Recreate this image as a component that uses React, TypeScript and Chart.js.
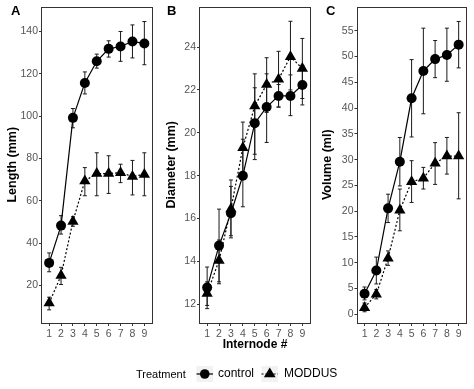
import React, { useEffect, useRef } from "react";
import { Chart, registerables } from "chart.js";

Chart.register(...registerables);

const FONT = "'Liberation Sans', Arial, Helvetica, sans-serif";

const internodes = [1, 2, 3, 4, 5, 6, 7, 8, 9];

// Panel A: Length (mm)
const lengthControl = [30.7, 48.3, 99.2, 115.7, 125.9, 131.8, 132.9, 135.3, 134.3];
const lengthControlLow = [26.5, 44.3, 94.5, 110.5, 122.7, 127.9, 125.9, 127.5, 124.3];
const lengthControlHigh = [35.4, 53.0, 103.6, 120.9, 129.3, 135.6, 140.0, 143.1, 144.7];
const lengthModdus = [11.7, 24.7, 50.3, 69.4, 72.9, 72.9, 73.3, 71.5, 72.5];
const lengthModdusLow = [8.5, 20.5, 48.0, 62.4, 62.4, 63.5, 68.6, 62.8, 62.4];
const lengthModdusHigh = [14.5, 28.6, 52.5, 75.7, 82.7, 81.3, 77.3, 79.1, 82.7];
const lengthTicks = [20, 40, 60, 80, 100, 120, 140];

// Panel B: Diameter (mm)
const diamControl = [12.78, 14.74, 16.25, 18.0, 20.45, 21.2, 21.72, 21.72, 22.23];
const diamControlLow = [11.8, 12.96, 15.1, 16.55, 18.75, 19.55, 21.2, 20.8, 21.3];
const diamControlHigh = [13.74, 16.44, 17.5, 19.7, 22.1, 22.75, 22.25, 22.7, 23.15];
const diamModdus = [12.5, 14.05, 16.45, 19.3, 21.25, 22.25, 22.5, 23.55, 23.0];
const diamModdusLow = [11.95, 13.05, 15.2, 18.1, 19.0, 20.95, 21.2, 22.0, 21.6];
const diamModdusHigh = [13.05, 15.0, 17.8, 20.5, 22.75, 23.5, 23.8, 25.2, 24.4];
const diamTicks = [12, 14, 16, 18, 20, 22, 24];

// Panel C: Volume (ml)
const volControl = [4.0, 8.5, 20.55, 29.6, 41.9, 47.2, 49.5, 50.3, 52.3];
const volControlLow = [2.8, 5.9, 17.8, 24.9, 34.4, 38.9, 45.9, 45.2, 47.8];
const volControlHigh = [5.3, 11.1, 23.3, 34.3, 49.4, 55.5, 53.1, 55.5, 56.8];
const volModdus = [1.3, 3.9, 10.9, 20.2, 25.7, 26.4, 29.3, 30.7, 30.7];
const volModdusLow = [0.5, 3.0, 9.5, 16.2, 21.7, 24.3, 25.2, 27.2, 22.4];
const volModdusHigh = [2.2, 4.8, 12.3, 24.3, 29.8, 28.5, 33.3, 34.3, 39.1];
const volTicks = [0, 5, 10, 15, 20, 25, 30, 35, 40, 45, 50, 55];

const CANVAS_H = 345;

type PanelProps = {
  left: number;
  width: number;
  rightPad: number;
  axisWidth: number;
  titlePad: number;
  yTitle: string;
  yMin: number;
  yMax: number;
  yTicks: number[];
  ctrl: number[];
  ctrlLow: number[];
  ctrlHigh: number[];
  mod: number[];
  modLow: number[];
  modHigh: number[];
};

function Panel(p: PanelProps) {
  const ref = useRef<HTMLCanvasElement | null>(null);
  useEffect(() => {
    if (!ref.current) return;
    const bars = [
      { low: p.ctrlLow, high: p.ctrlHigh },
      { low: p.modLow, high: p.modHigh },
    ];
    const plugin = {
      id: "errbarsAndFrame",
      beforeDatasetsDraw(chart: any) {
        const { ctx, scales } = chart;
        const x = scales.x;
        const y = scales.y;
        ctx.save();
        ctx.strokeStyle = "#1a1a1a";
        ctx.lineWidth = 1;
        bars.forEach((s) => {
          s.low.forEach((lo, i) => {
            const px = x.getPixelForValue(internodes[i]);
            const y1 = y.getPixelForValue(lo);
            const y2 = y.getPixelForValue(s.high[i]);
            ctx.beginPath();
            ctx.moveTo(px, y1);
            ctx.lineTo(px, y2);
            ctx.moveTo(px - 2, y1);
            ctx.lineTo(px + 2, y1);
            ctx.moveTo(px - 2, y2);
            ctx.lineTo(px + 2, y2);
            ctx.stroke();
          });
        });
        ctx.restore();
      },
      afterDraw(chart: any) {
        const { ctx, chartArea } = chart;
        ctx.save();
        ctx.strokeStyle = "#333";
        ctx.lineWidth = 1;
        const l = Math.round(chartArea.left) - 0.5;
        const t = Math.round(chartArea.top) + 0.5;
        const r = Math.round(chartArea.right) + 0.5;
        const b = Math.round(chartArea.bottom) + 0.5;
        ctx.strokeRect(l, t, r - l, b - t);
        ctx.restore();
      },
    };
    const tickFont = { size: 10.5, family: FONT };
    const chart = new Chart(ref.current, {
      type: "line",
      data: {
        datasets: [
          {
            label: "control",
            data: internodes.map((v, i) => ({ x: v, y: p.ctrl[i] })),
            borderColor: "#000",
            backgroundColor: "#000",
            borderWidth: 1.2,
            pointStyle: "circle",
            pointRadius: 5,
            pointBorderWidth: 0,
            pointBackgroundColor: "#000",
            tension: 0,
            clip: false,
          },
          {
            label: "MODDUS",
            data: internodes.map((v, i) => ({ x: v, y: p.mod[i] })),
            borderColor: "#000",
            backgroundColor: "#000",
            borderWidth: 1.2,
            borderDash: [2, 2],
            pointStyle: "triangle",
            pointRadius: 6.5,
            pointBorderWidth: 0,
            pointBackgroundColor: "#000",
            tension: 0,
            clip: false,
          },
        ],
      },
      options: {
        animation: false,
        responsive: false,
        maintainAspectRatio: false,
        events: [],
        layout: { padding: { top: 5, left: 0, right: p.rightPad, bottom: 0 } },
        plugins: { legend: { display: false }, tooltip: { enabled: false } },
        scales: {
          x: {
            type: "linear",
            min: 0.4,
            max: 9.6,
            afterBuildTicks: (ax: any) => {
              ax.ticks = internodes.map((v) => ({ value: v }));
            },
            afterFit: (ax: any) => {
              ax.height = 22;
              ax.paddingLeft = 0;
              ax.paddingRight = 0;
            },
            ticks: {
              color: "#555",
              font: tickFont,
              padding: 2,
              maxRotation: 0,
              autoSkip: false,
            },
            grid: { drawOnChartArea: false, color: "#333", tickLength: 3, tickWidth: 1 },
            border: { display: false },
          },
          y: {
            type: "linear",
            min: p.yMin,
            max: p.yMax,
            afterBuildTicks: (ax: any) => {
              ax.ticks = p.yTicks.map((v) => ({ value: v }));
            },
            afterFit: (ax: any) => {
              ax.width = p.axisWidth;
              ax.paddingTop = 0;
              ax.paddingBottom = 0;
            },
            ticks: { color: "#555", font: tickFont, padding: 1 },
            grid: { drawOnChartArea: false, color: "#333", tickLength: 3, tickWidth: 1 },
            border: { display: false },
            title: {
              display: true,
              text: p.yTitle,
              color: "#000",
              font: { size: 12.5, weight: "bold", family: FONT },
              padding: { top: p.titlePad, bottom: 0 },
            },
          },
        },
      },
      plugins: [plugin],
    } as any);
    return () => chart.destroy();
  }, []);
  return (
    <canvas
      ref={ref}
      width={p.width}
      height={CANVAS_H}
      style={{ position: "absolute", left: p.left, top: 0, width: p.width, height: CANVAS_H }}
    />
  );
}

const panelLabel = (text: string, left: number) => (
  <div
    style={{
      position: "absolute",
      left,
      top: 3,
      fontSize: 13,
      lineHeight: "15px",
      fontWeight: "bold",
      color: "#000",
    }}
  >
    {text}
  </div>
);

export default function App() {
  return (
    <div
      style={{
        position: "fixed",
        left: 0,
        top: 0,
        width: 474,
        height: 389,
        background: "#fff",
        fontFamily: FONT,
        overflow: "hidden",
      }}
    >
      <Panel
        left={0}
        width={158}
        rightPad={5.3}
        axisWidth={42}
        titlePad={5}
        yTitle="Length (mm)"
        yMin={2.3}
        yMax={151.8}
        yTicks={lengthTicks}
        ctrl={lengthControl}
        ctrlLow={lengthControlLow}
        ctrlHigh={lengthControlHigh}
        mod={lengthModdus}
        modLow={lengthModdusLow}
        modHigh={lengthModdusHigh}
      />
      <Panel
        left={158}
        width={158}
        rightPad={5.3}
        axisWidth={42}
        titlePad={6.4}
        yTitle="Diameter (mm)"
        yMin={11.13}
        yMax={25.89}
        yTicks={diamTicks}
        ctrl={diamControl}
        ctrlLow={diamControlLow}
        ctrlHigh={diamControlHigh}
        mod={diamModdus}
        modLow={diamModdusLow}
        modHigh={diamModdusHigh}
      />
      <Panel
        left={316}
        width={158}
        rightPad={8.3}
        axisWidth={41.5}
        titlePad={4.4}
        yTitle="Volume (ml)"
        yMin={-1.68}
        yMax={59.7}
        yTicks={volTicks}
        ctrl={volControl}
        ctrlLow={volControlLow}
        ctrlHigh={volControlHigh}
        mod={volModdus}
        modLow={volModdusLow}
        modHigh={volModdusHigh}
      />
      {panelLabel("A", 11)}
      {panelLabel("B", 167)}
      {panelLabel("C", 326)}
      <div
        style={{
          position: "absolute",
          left: 155,
          width: 200,
          top: 336,
          textAlign: "center",
          fontSize: 12,
          lineHeight: "16px",
          fontWeight: "bold",
          color: "#000",
        }}
      >
        Internode #
      </div>
      <div
        style={{
          position: "absolute",
          left: 136,
          top: 367,
          fontSize: 11,
          lineHeight: "14px",
          color: "#000",
        }}
      >
        Treatment
      </div>
      <div
        style={{
          position: "absolute",
          left: 218,
          top: 366,
          fontSize: 12,
          lineHeight: "15px",
          color: "#000",
        }}
      >
        control
      </div>
      <div
        style={{
          position: "absolute",
          left: 284,
          top: 366,
          fontSize: 12,
          lineHeight: "15px",
          color: "#000",
        }}
      >
        MODDUS
      </div>
      <svg
        width={474}
        height={389}
        style={{ position: "absolute", left: 0, top: 0, pointerEvents: "none" }}
      >
        <rect x={196.5} y={366} width={16.5} height={16} fill="#f2f2f2" />
        <line x1={196.5} y1={374} x2={213} y2={374} stroke="#000" strokeWidth={1.2} />
        <circle cx={204.75} cy={374} r={4.8} fill="#000" />
        <rect x={261.5} y={366} width={16.5} height={16} fill="#f2f2f2" />
        <line
          x1={261.5}
          y1={374}
          x2={278}
          y2={374}
          stroke="#000"
          strokeWidth={1.2}
          strokeDasharray="2 2"
        />
        <polygon points="269.75,367.5 275.6,377.25 263.9,377.25" fill="#000" />
      </svg>
    </div>
  );
}
